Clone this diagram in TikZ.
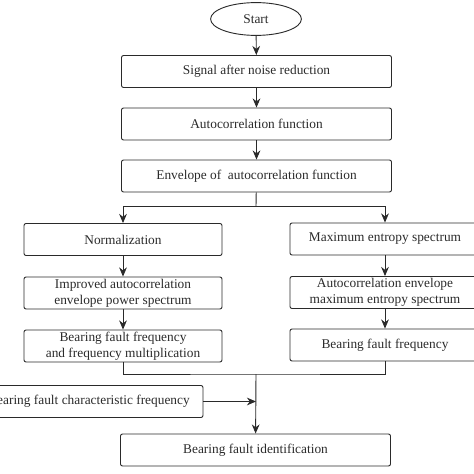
\documentclass[tikz,border=0pt]{standalone}
\usepackage{fontspec}
\setmainfont{Liberation Serif}
\usetikzlibrary{shapes.geometric,arrows.meta}

\definecolor{fcink}{HTML}{2A2A2A}

\begin{document}
\begin{tikzpicture}[
  x=0.025cm,y=-0.025cm,
  font=\fontsize{9.5}{11.4}\selectfont,
  every node/.style={text=fcink},
  box/.style={draw=fcink,line width=.65pt,rounded corners=1.5pt,
    inner sep=1pt,align=center,minimum height=.8cm},
  wide/.style={box,minimum width=6.75cm},
  side/.style={box,minimum width=4.95cm},
  startnode/.style={draw=fcink,line width=.65pt,ellipse,inner sep=0pt,
    minimum width=2.27cm,minimum height=.82cm},
  line/.style={draw=fcink,line width=.65pt},
  arr/.style={line,-{Stealth[length=6.5pt,width=5.5pt]}}
]
  \path[use as bounding box] (0,0) rectangle (474,474);
  \node[startnode] (start) at (256,19) {Start};
  \node[wide] (sig) at (256.5,71.5) {Signal after noise reduction};
  \node[wide] (acf) at (256.5,124) {Autocorrelation function};
  \node[wide] (env) at (256.5,176) {Envelope of~ autocorrelation function};
  \node[side] (norm) at (123,239.5) {Normalization};
  \node[box,minimum width=4.75cm] (mes) at (385,239) {Maximum entropy spectrum};
  \node[side] (imp) at (123,293) {Improved autocorrelation\\envelope power spectrum};
  \node[box,minimum width=4.75cm] (ame) at (385,292.5) {Autocorrelation envelope\\maximum entropy spectrum};
  \node[side] (bff) at (123,346) {Bearing fault frequency\\and frequency multiplication};
  \node[box,minimum width=4.75cm] (bf) at (385,345) {Bearing fault frequency};
  \node[box,minimum width=5.7cm] (bfc) at (89,401.5) {Bearing fault characteristic frequency};
  \node[wide] (bfi) at (255.5,450) {Bearing fault identification};
  \coordinate (split) at (256,206);
  \coordinate (join) at (256,374);
  \draw[arr] (start) -- (sig);
  \draw[arr] (sig) -- (acf);
  \draw[arr] (acf) -- (env);
  \draw[line] (env) -- (split);
  \draw[arr] (split) -| (norm);
  \draw[arr] (split) -| (mes);
  \draw[arr] (norm) -- (imp);
  \draw[arr] (mes) -- (ame);
  \draw[arr] (imp) -- (bff);
  \draw[arr] (ame) -- (bf);
  \draw[line] (bff) |- (join) -| (bf);
  \draw[arr] (join) -- (bfi);
  \draw[arr] (bfc) -- (bfc -| join);
\end{tikzpicture}
\end{document}
